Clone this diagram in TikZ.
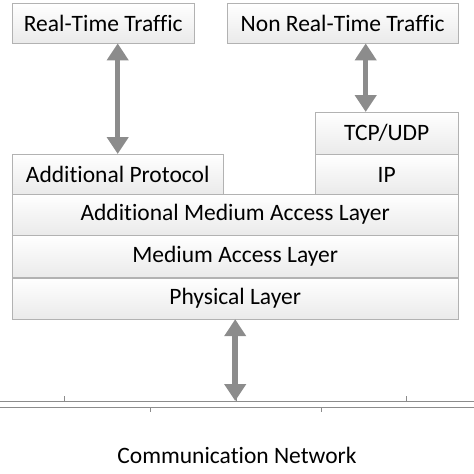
\documentclass[tikz,border=0pt]{standalone}
\usepackage{fontspec}
\setmainfont{Carlito}[Ligatures=NoCommon]
\usetikzlibrary{arrows.meta,positioning}

\definecolor{boxgray}{RGB}{178,178,178}
\definecolor{boxfill}{RGB}{234,234,234}
\definecolor{arrowgray}{RGB}{140,140,140}

\tikzset{
    layerbox/.style={draw=boxgray, top color=white, bottom color=boxfill,
        inner sep=0pt, anchor=north west, font=\fontsize{23.5}{26}\selectfont},
    dataflow/.style={{Triangle[width=21pt,length=17pt]}-{Triangle[width=21pt,length=17pt]},
        line width=5.5pt, draw=arrowgray},
    netline/.style={draw=arrowgray, line width=0.9pt}
}

\begin{document}
\begin{tikzpicture}[x=1pt,y=-1pt]

    \useasboundingbox (0,0) rectangle (474,474);

    % Traffic boxes
    \node[layerbox, minimum width=182pt, minimum height=40pt] (rt) at (12,3) {Real-Time Traffic};
    \node[layerbox, minimum width=231pt, minimum height=40pt] (nrt) at (227,3) {Non Real-Time Traffic};

    % Upper protocol boxes
    \node[layerbox, minimum width=211pt, minimum height=40pt] (ap) at (12,154) {Additional Protocol};
    \node[layerbox, minimum width=143pt, minimum height=42pt] (tcp) at (315,112) {TCP/UDP};
    \node[layerbox, minimum width=143pt, minimum height=40pt, below=0pt of tcp.south west, anchor=north west] (ip) {IP};

    % Layer stack
    \node[layerbox, minimum width=446pt, minimum height=41pt] (amal) at (12,194) {Additional Medium Access Layer};
    \node[layerbox, minimum width=446pt, minimum height=42pt, below=0pt of amal.south west, anchor=north west] (mal) {Medium Access Layer};
    \node[layerbox, minimum width=446pt, minimum height=41pt, below=0pt of mal.south west, anchor=north west] (phy) {Physical Layer};

    % Network
    \coordinate (netL) at (0,401);
    \coordinate (netR) at (474,401);
    \coordinate (net) at (phy.south |- netL);
    \draw[netline] (netL) -- (netR);
    \draw[netline] ([yshift=-6pt]netL) -- ([yshift=-6pt]netR);
    \foreach \x in {64,236,406}
        \draw[draw=arrowgray, line width=0.5pt] (\x,401) -- (\x,396);
    \foreach \x in {150,321}
        \draw[draw=arrowgray, line width=0.5pt] (\x,407) -- (\x,412);
    \node[font=\fontsize{23.5}{26}\selectfont] (netlabel) at (237,455) {Communication Network};

    % Arrows
    \draw[dataflow] (rt.south -| ap.north) -- (ap.north);
    \draw[dataflow] ([xshift=-21pt]tcp.north |- nrt.south) -- ([xshift=-21pt]tcp.north);
    \draw[dataflow] (phy.south) -- (net);

\end{tikzpicture}
\end{document}
